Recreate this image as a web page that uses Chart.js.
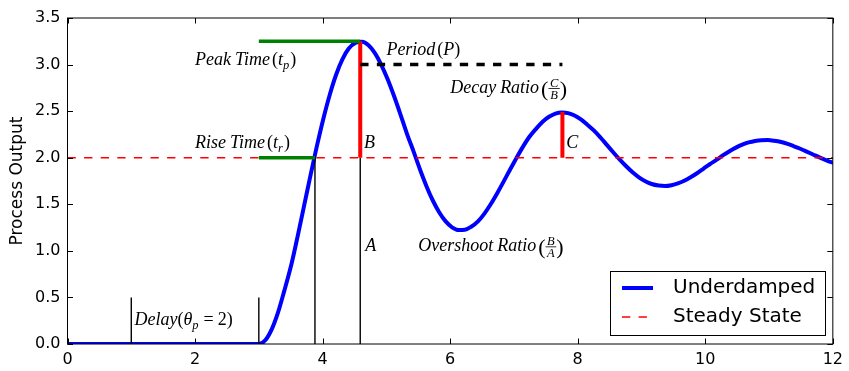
<!DOCTYPE html>
<html>
<head>
<meta charset="utf-8">
<script src="https://cdn.jsdelivr.net/npm/chart.js@4/dist/chart.umd.min.js"></script>
<style>
  html, body { margin: 0; padding: 0; background: #fff; }
  canvas { display: block; }
</style>
</head>
<body>
<canvas id="responseChart" width="849" height="371"></canvas>
<script>
// time axis and process output
const time = [0,
  3.00, 3.10, 3.20, 3.30, 3.40, 3.51, 3.61, 3.71, 3.81, 3.91,
  4.01, 4.11, 4.21, 4.31, 4.41, 4.52, 4.62, 4.72, 4.82, 4.92,
  5.02, 5.12, 5.22, 5.32, 5.43, 5.53, 5.63, 5.73, 5.83, 5.93,
  6.03, 6.13, 6.23, 6.33, 6.44, 6.54, 6.64, 6.74, 6.84, 6.94,
  7.04, 7.14, 7.24, 7.35, 7.45, 7.55, 7.65, 7.75, 7.85, 7.95,
  8.05, 8.15, 8.26, 8.36, 8.46, 8.56, 8.66, 8.76, 8.86, 8.96,
  9.06, 9.16, 9.27, 9.37, 9.47, 9.57, 9.67, 9.77, 9.87, 9.97,
  10.07, 10.18, 10.28, 10.38, 10.48, 10.58, 10.68, 10.78, 10.88, 10.98,
  11.08, 11.19, 11.29, 11.39, 11.49, 11.59, 11.69, 11.79, 11.89, 11.99, 12.10];
const output = [0,
  0.000, 0.040, 0.155, 0.337, 0.573, 0.853, 1.161, 1.485, 1.810, 2.124,
  2.414, 2.671, 2.888, 3.056, 3.172, 3.236, 3.246, 3.207, 3.123, 2.998,
  2.842, 2.662, 2.466, 2.262, 2.060, 1.868, 1.692, 1.538, 1.412, 1.316,
  1.253, 1.223, 1.226, 1.259, 1.320, 1.403, 1.506, 1.622, 1.746, 1.874,
  1.998, 2.116, 2.222, 2.313, 2.387, 2.440, 2.474, 2.486, 2.479, 2.453,
  2.411, 2.355, 2.288, 2.214, 2.135, 2.056, 1.979, 1.908, 1.844, 1.790,
  1.748, 1.718, 1.701, 1.696, 1.705, 1.724, 1.753, 1.790, 1.833, 1.881,
  1.930, 1.979, 2.027, 2.070, 2.108, 2.140, 2.164, 2.180, 2.188, 2.189,
  2.182, 2.168, 2.148, 2.123, 2.096, 2.066, 2.035, 2.004, 1.975, 1.949, 1.926];

const steadyX = [0, 12], steadyY = [2, 2];

// guide segments (data coords)
const riseX = [3, 3.88], riseY = [2, 2];
const peakX = [3, 4.59], peakY = [3.25, 3.25];
const periodX = [4.59, 7.76], periodY = [3, 3];
const bX = [4.59, 4.59], bY = [2, 3.25];
const cX = [7.76, 7.76], cY = [2, 2.49];
const delayStartX = [1, 1], delayEndX = [3, 3], delayY = [0, 0.5];
const riseMarkX = [3.88, 3.88], peakMarkX = [4.59, 4.59], markY = [0, 2];

const xTicks = [0, 2, 4, 6, 8, 10, 12];
const yTicks = [0, 0.5, 1, 1.5, 2, 2.5, 3, 3.5];

// annotation text: anchor (data coords) + math pieces
const notes = [
  { x: 2, y: 3.0, parts: [["it", "Peak"], ["sp", 4], ["it", "Time"], ["sp", 2], ["rm", "("], ["it", "t"], ["sub", "p"], ["rm", ")"]] },
  { x: 5, y: 3.1, parts: [["it", "Period"], ["sp", 2], ["rm", "("], ["it", "P"], ["rm", ")"]] },
  { x: 6, y: 2.7, parts: [["it", "Decay"], ["sp", 4], ["it", "Ratio"], ["sp", 2], ["big", "("], ["frac", "C", "B"], ["big", ")"]] },
  { x: 2, y: 2.1, parts: [["it", "Rise"], ["sp", 4], ["it", "Time"], ["sp", 2], ["rm", "("], ["it", "t"], ["sub", "r"], ["rm", ")"]] },
  { x: 4.65, y: 2.1, parts: [["it", "B"]] },
  { x: 7.82, y: 2.1, parts: [["it", "C"]] },
  { x: 4.67, y: 1.0, parts: [["it", "A"]] },
  { x: 5.5, y: 1.0, parts: [["it", "Overshoot"], ["sp", 4], ["it", "Ratio"], ["sp", 2], ["big", "("], ["frac", "B", "A"], ["big", ")"]] },
  { x: 1.05, y: 0.2, parts: [["it", "Delay"], ["rm", "("], ["it", "θ"], ["sub", "p"], ["sp", 4], ["rm", "="], ["sp", 4], ["rm", "2"], ["rm", ")"]] }
];

const MATH = '"Liberation Serif", "DejaVu Serif", serif';
const TICK_FONT = '"DejaVu Sans", sans-serif';

function pts(xs, ys) {
  return xs.map((x, i) => ({ x: x, y: ys[i] }));
}

function seg(xs, ys, color, width, dash) {
  return {
    data: pts(xs, ys), borderColor: color, borderWidth: width, borderDash: dash || [],
    pointRadius: 0, fill: false, clip: 0, borderCapStyle: "butt", order: 1
  };
}

//draws mathtext-ish pieces starting at (x, y baseline)
function drawMath(ctx, parts, x, y) {
  let cx = x;
  ctx.fillStyle = "#000";
  ctx.textBaseline = "alphabetic";
  ctx.textAlign = "left";
  parts.forEach(p => {
    const kind = p[0];
    if (kind === "sp") { cx += p[1]; return; }
    if (kind === "it" || kind === "rm") {
      ctx.font = (kind === "it" ? "italic " : "") + "18px " + MATH;
      ctx.fillText(p[1], cx, y);
      cx += ctx.measureText(p[1]).width;
    } else if (kind === "big") {
      ctx.font = "22px " + MATH;
      ctx.fillText(p[1], cx, y + 3);
      cx += ctx.measureText(p[1]).width;
    } else if (kind === "sub") {
      ctx.font = "italic 12.5px " + MATH;
      ctx.fillText(p[1], cx, y + 4);
      cx += ctx.measureText(p[1]).width + 1;
    } else if (kind === "frac") {
      ctx.font = "italic 12.5px " + MATH;
      const wn = ctx.measureText(p[1]).width, wd = ctx.measureText(p[2]).width;
      const w = Math.max(wn, wd) + 3;
      const axis = y - 4;
      ctx.fillText(p[1], cx + (w - wn) / 2, axis - 2);
      ctx.fillText(p[2], cx + (w - wd) / 2, axis + 10.5);
      ctx.fillRect(cx, axis - 0.4, w, 0.8);
      cx += w;
    }
  });
}

const framePlugin = {
  id: "frame",
  afterDatasetsDraw(chart) {
    const { ctx, chartArea: a, scales } = chart;
    ctx.save();
    // annotations
    notes.forEach(n => {
      drawMath(ctx, n.parts, scales.x.getPixelForValue(n.x), scales.y.getPixelForValue(n.y));
    });
    // axes box and inward ticks
    ctx.strokeStyle = "#000";
    ctx.lineWidth = 1;
    ctx.strokeRect(a.left, a.top, a.right - a.left, a.bottom - a.top);
    const tl = 5.5;
    ctx.beginPath();
    xTicks.forEach(v => {
      const px = Math.round(scales.x.getPixelForValue(v)) + 0.5;
      ctx.moveTo(px, a.bottom); ctx.lineTo(px, a.bottom - tl);
      ctx.moveTo(px, a.top); ctx.lineTo(px, a.top + tl);
    });
    yTicks.forEach(v => {
      const py = Math.round(scales.y.getPixelForValue(v)) + 0.5;
      ctx.moveTo(a.left, py); ctx.lineTo(a.left + tl, py);
      ctx.moveTo(a.right, py); ctx.lineTo(a.right - tl, py);
    });
    ctx.stroke();

    // legend box, lower right
    const lx = 610.5, ly = 271.5, lw = 215, lh = 64;
    ctx.fillStyle = "#fff";
    ctx.fillRect(lx, ly, lw, lh);
    ctx.strokeRect(lx, ly, lw, lh);
    ctx.lineCap = "butt";
    ctx.strokeStyle = "#0000ff";
    ctx.lineWidth = 4;
    ctx.beginPath(); ctx.moveTo(622, 288); ctx.lineTo(653, 288); ctx.stroke();
    ctx.strokeStyle = "#ff0000";
    ctx.lineWidth = 1.4;
    ctx.setLineDash([8.3, 8.3]);
    ctx.beginPath(); ctx.moveTo(622, 317); ctx.lineTo(653, 317); ctx.stroke();
    ctx.setLineDash([]);
    ctx.fillStyle = "#000";
    ctx.font = "20px " + TICK_FONT;
    ctx.textBaseline = "middle";
    ctx.fillText("Underdamped", 673, 288);
    ctx.fillText("Steady State", 673, 317);
    ctx.restore();
  }
};

const ctx = document.getElementById("responseChart").getContext("2d");

new Chart(ctx, {
  type: "line",
  data: {
    datasets: [
      {
        label: "Underdamped",
        data: pts(time, output),
        borderColor: "#0000ff",
        borderWidth: 4,
        borderJoinStyle: "round",
        cubicInterpolationMode: "monotone",
        pointRadius: 0,
        fill: false,
        clip: 0,
        order: 5
      },
      {
        label: "Steady State",
        data: pts(steadyX, steadyY),
        borderColor: "#ff0000",
        borderWidth: 1.4,
        borderDash: [8.3, 8.3],
        pointRadius: 0,
        fill: false,
        clip: 0,
        order: 4
      },
      seg(riseX, riseY, "#008000", 3.5),
      seg(peakX, peakY, "#008000", 3.5),
      seg(periodX, periodY, "#000000", 3.5, [8.3, 8.3]),
      seg(bX, bY, "#ff0000", 4),
      seg(cX, cY, "#ff0000", 4),
      seg(delayStartX, delayY, "#000000", 1.4),
      seg(delayEndX, delayY, "#000000", 1.4),
      seg(riseMarkX, markY, "#000000", 1.4),
      seg(peakMarkX, markY, "#000000", 1.4)
    ]
  },
  options: {
    responsive: false,
    animation: false,
    layout: { padding: { left: 0, right: 13.5, top: 18, bottom: 0 } },
    plugins: {
      legend: { display: false },
      tooltip: { enabled: false }
    },
    scales: {
      x: {
        type: "linear",
        min: 0,
        max: 12,
        grid: { display: false, drawTicks: false },
        border: { display: false },
        afterBuildTicks: s => { s.ticks = xTicks.map(v => ({ value: v })); },
        afterFit: s => { s.height = 27; },
        ticks: {
          color: "#000",
          padding: 6,
          maxRotation: 0,
          font: { family: TICK_FONT, size: 16 },
          callback: v => String(v)
        }
      },
      y: {
        min: 0,
        max: 3.5,
        grid: { display: false, drawTicks: false },
        border: { display: false },
        afterBuildTicks: s => { s.ticks = yTicks.map(v => ({ value: v })); },
        afterFit: s => { s.width = 67.5; },
        title: {
          display: true,
          text: "Process Output",
          color: "#000",
          padding: { top: 7, bottom: 0 },
          font: { family: TICK_FONT, size: 17 }
        },
        ticks: {
          color: "#000",
          padding: 7,
          font: { family: TICK_FONT, size: 16 },
          callback: v => v.toFixed(1)
        }
      }
    }
  },
  plugins: [framePlugin]
});
</script>
</body>
</html>
